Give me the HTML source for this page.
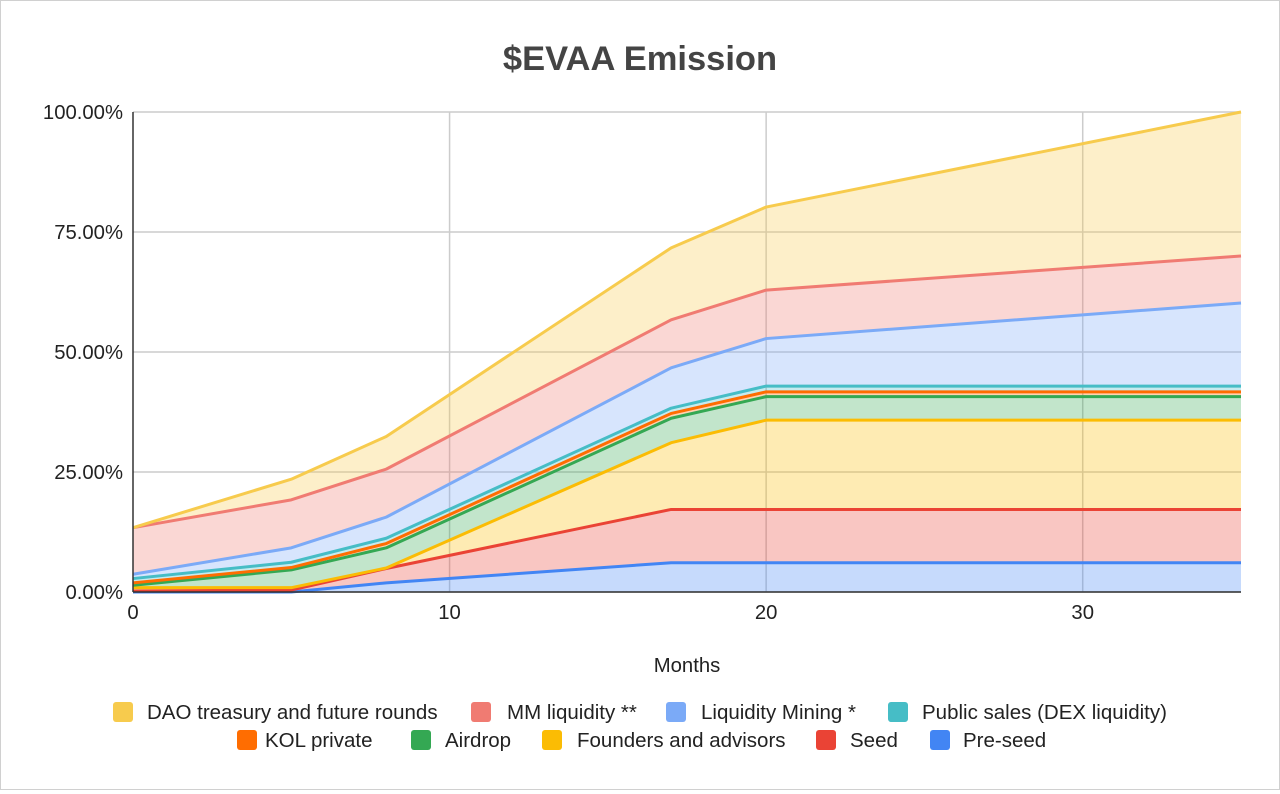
<!DOCTYPE html>
<html><head><meta charset="utf-8"><style>
body{margin:0;background:#fff;font-family:"Liberation Sans",Arial,sans-serif}
#wrap{width:1278px;height:788px;border:1px solid #d0d0d0;position:relative}
</style></head><body>
<div id="wrap">
<svg id="chart" width="1278" height="788"></svg>
</div>
<script>
const months=[0,5,8,17,20,35];
const preSeed=[0,0,1.9,6.1,6.1,6.1];
const seed=[0.2,0.4,3.0,11.1,11.1,11.1];
const founders=[0.7,0.5,0.1,13.9,18.6,18.6];
const airdrop=[0.5,3.7,4.2,5.1,4.9,4.9];
const kol=[0.5,0.5,0.9,1.0,1.0,1.0];
const publicSales=[0.9,1.1,1.1,1.1,1.2,1.2];
const liqMining=[0.9,3.0,4.4,8.4,9.9,17.3];
const mmLiquidity=[9.7,10,10,10,10.1,9.8];
const dao=[0,4.3,6.8,15,17.3,30];
const yTicks=[0,25,50,75,100];
const yTickLabels=["0.00%","25.00%","50.00%","75.00%","100.00%"];
const xTicks=[0,10,20,30];

const series=[
 {name:"Pre-seed",vals:preSeed,c:"#4285f4"},
 {name:"Seed",vals:seed,c:"#ea4335"},
 {name:"Founders and advisors",vals:founders,c:"#fbbc04"},
 {name:"Airdrop",vals:airdrop,c:"#34a853"},
 {name:"KOL private",vals:kol,c:"#ff6d01"},
 {name:"Public sales (DEX liquidity)",vals:publicSales,c:"#46bdc6"},
 {name:"Liquidity Mining *",vals:liqMining,c:"#7baaf7"},
 {name:"MM liquidity **",vals:mmLiquidity,c:"#f07b72"},
 {name:"DAO treasury and future rounds",vals:dao,c:"#f7cb4d"}
];
const X=m=>132+m*(1108/35);
const Y=v=>591-v*4.8;
const svg=document.getElementById('chart');
const NS="http://www.w3.org/2000/svg";
function mk(tag,attrs,parent){const e=document.createElementNS(NS,tag);for(const k in attrs)e.setAttribute(k,attrs[k]);(parent||svg).appendChild(e);return e;}

const title=mk('text',{x:639,y:69,'text-anchor':'middle','font-size':34.5,'font-weight':'bold',fill:'#444'});
title.textContent="$EVAA Emission";



yTicks.forEach((t,i)=>{
 const l=mk('line',{x1:132,x2:1240,y1:Y(t),y2:Y(t),stroke:'#cccccc','stroke-width':1.5});
 
 
 const tx=mk('text',{x:122,y:Y(t)+7,'text-anchor':'end','font-size':20.3,fill:'#222'});
 tx.textContent=yTickLabels[i];
 
 
});
xTicks.forEach(t=>{
 if(t>0){const l=mk('line',{x1:X(t),x2:X(t),y1:Y(100),y2:Y(0),stroke:'#cccccc','stroke-width':1.5});
 
 }
 const tx=mk('text',{x:X(t),y:618,'text-anchor':'middle','font-size':20.3,fill:'#222'});
 tx.textContent=String(t);
 
 
});

let base=months.map(()=>0);
const tops=[];
series.forEach(s=>{
 const top=base.map((b,i)=>b+s.vals[i]);
 let d="M"+months.map((m,i)=>X(m)+","+Y(top[i])).join(" L");
 for(let i=months.length-1;i>=0;i--)d+=" L"+X(months[i])+","+Y(base[i]);
 const a=mk('path',{d:d+"Z",fill:s.c,'fill-opacity':0.3,stroke:'none'});
 
 
 tops.push({top,c:s.c,name:s.name});
 base=top;
});
tops.forEach(t=>{
 const ln=mk('polyline',{points:months.map((m,i)=>X(m)+","+Y(t.top[i])).join(" "),fill:'none',stroke:t.c,'stroke-width':3,'stroke-linejoin':'round'});
 
 
});
const ax=mk('line',{x1:132,x2:1240,y1:591,y2:591,stroke:'#333','stroke-width':1.5});


const ay=mk('line',{x1:132,x2:132,y1:111,y2:591,stroke:'#333','stroke-width':1.5});



const xt=mk('text',{x:686,y:671,'text-anchor':'middle','font-size':20.3,fill:'#222'});
xt.textContent="Months";



const legend=[
 ["DAO treasury and future rounds","#f7cb4d",112,146,711],
 ["MM liquidity **","#f07b72",470,506,711],
 ["Liquidity Mining *","#7baaf7",665,700,711],
 ["Public sales (DEX liquidity)","#46bdc6",887,921,711],
 ["KOL private","#ff6d01",236,264,739],
 ["Airdrop","#34a853",410,444,739],
 ["Founders and advisors","#fbbc04",541,576,739],
 ["Seed","#ea4335",815,849,739],
 ["Pre-seed","#4285f4",929,962,739]
];
legend.forEach(l=>{
 const g=mk('g',{});
 
 
 mk('rect',{x:l[2],y:l[4]-10,width:20,height:20,rx:3,fill:l[1]},g);
 const t=mk('text',{x:l[3],y:l[4]+7,'font-size':20.5,fill:'#222'},g);
 t.textContent=l[0];
});
</script>
</body></html>
